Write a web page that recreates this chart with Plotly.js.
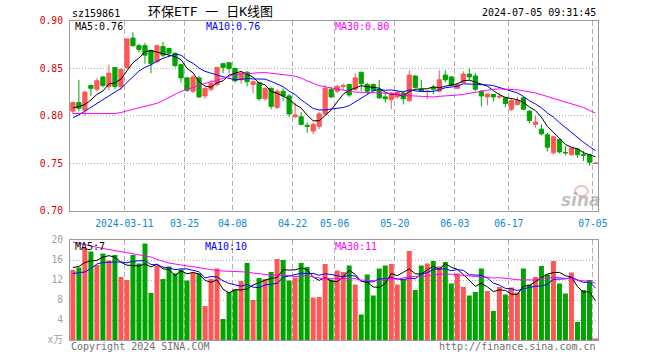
<!DOCTYPE html>
<html><head><meta charset="utf-8">
<script src="https://cdn.plot.ly/plotly-3.0.1.min.js"></script>
<style>html,body{margin:0;padding:0;background:#fff;}#chart{width:660px;height:360px;}</style>
</head><body><div id="chart"></div>
<script>
// ---------- data ----------
const dates = ["2024-02-27","2024-02-28","2024-02-29","2024-03-01","2024-03-04","2024-03-05","2024-03-06","2024-03-07","2024-03-08","2024-03-11","2024-03-12","2024-03-13","2024-03-14","2024-03-15","2024-03-18","2024-03-19","2024-03-20","2024-03-21","2024-03-22","2024-03-25","2024-03-26","2024-03-27","2024-03-28","2024-03-29","2024-04-01","2024-04-02","2024-04-03","2024-04-08","2024-04-09","2024-04-10","2024-04-11","2024-04-12","2024-04-15","2024-04-16","2024-04-17","2024-04-18","2024-04-19","2024-04-22","2024-04-23","2024-04-24","2024-04-25","2024-04-26","2024-04-29","2024-04-30","2024-05-06","2024-05-07","2024-05-08","2024-05-09","2024-05-10","2024-05-13","2024-05-14","2024-05-15","2024-05-16","2024-05-17","2024-05-20","2024-05-21","2024-05-22","2024-05-23","2024-05-24","2024-05-27","2024-05-28","2024-05-29","2024-05-30","2024-05-31","2024-06-03","2024-06-04","2024-06-05","2024-06-06","2024-06-07","2024-06-11","2024-06-12","2024-06-13","2024-06-14","2024-06-17","2024-06-18","2024-06-19","2024-06-20","2024-06-21","2024-06-24","2024-06-25","2024-06-26","2024-06-27","2024-06-28","2024-07-01","2024-07-02","2024-07-03","2024-07-04","2024-07-05"];

const openP = [0.805,0.814,0.806,0.832,0.828,0.841,0.831,0.851,0.831,0.851,
0.882,0.874,0.874,0.869,0.857,0.873,0.871,0.866,0.854,0.840,
0.826,0.840,0.821,0.828,0.833,0.855,0.856,0.850,0.838,0.846,
0.833,0.835,0.818,0.829,0.809,0.826,0.821,0.799,0.799,0.790,
0.784,0.789,0.802,0.828,0.826,0.831,0.833,0.828,0.846,0.833,
0.833,0.828,0.820,0.817,0.820,0.824,0.816,0.842,0.828,0.8255,
0.830,0.826,0.843,0.841,0.829,0.835,0.844,0.842,0.826,0.820,
0.8226,0.8198,0.819,0.807,0.812,0.819,0.805,0.791,0.786,0.780,
0.761,0.775,0.7615,0.759,0.765,0.759,0.759,0.7498];
const highP = [0.815,0.838,0.826,0.833,0.840,0.842,0.854,0.851,0.850,0.882,
0.888,0.876,0.877,0.870,0.875,0.878,0.872,0.867,0.855,0.841,
0.843,0.842,0.830,0.838,0.852,0.856,0.857,0.851,0.847,0.847,
0.837,0.836,0.830,0.830,0.828,0.829,0.823,0.814,0.804,0.793,
0.793,0.804,0.833,0.830,0.833,0.834,0.834,0.845,0.846,0.835,
0.834,0.838,0.824,0.825,0.826,0.826,0.848,0.843,0.838,0.827,
0.833,0.848,0.848,0.842,0.835,0.847,0.850,0.845,0.827,0.823,
0.823,0.824,0.820,0.819,0.820,0.820,0.806,0.8005,0.791,0.782,
0.778,0.776,0.768,0.766,0.766,0.763,0.760,0.7502];
const lowP = [0.802,0.805,0.800,0.821,0.826,0.830,0.827,0.828,0.827,0.849,
0.873,0.867,0.855,0.845,0.856,0.862,0.862,0.851,0.835,0.825,
0.824,0.819,0.818,0.826,0.831,0.845,0.845,0.835,0.834,0.831,
0.824,0.816,0.816,0.807,0.807,0.8156,0.799,0.798,0.790,0.782,
0.7805,0.786,0.801,0.819,0.824,0.827,0.820,0.826,0.826,0.823,
0.826,0.818,0.814,0.807,0.818,0.812,0.815,0.829,0.825,0.8174,
0.823,0.825,0.835,0.831,0.828,0.834,0.838,0.826,0.810,0.811,
0.815,0.818,0.809,0.805,0.811,0.806,0.792,0.7875,0.7795,0.7623,
0.759,0.7605,0.7584,0.758,0.756,0.7525,0.7475,0.7498];
const closeP = [0.814,0.808,0.825,0.829,0.837,0.832,0.845,0.831,0.849,0.881,
0.874,0.870,0.864,0.855,0.874,0.864,0.866,0.853,0.840,0.827,
0.841,0.820,0.829,0.834,0.851,0.851,0.850,0.837,0.845,0.836,
0.836,0.818,0.829,0.810,0.826,0.821,0.802,0.801,0.791,0.789,
0.791,0.802,0.829,0.820,0.831,0.832,0.822,0.840,0.834,0.826,
0.827,0.819,0.818,0.824,0.825,0.818,0.843,0.830,0.826,0.826,
0.828,0.838,0.838,0.832,0.833,0.844,0.841,0.828,0.821,0.823,
0.820,0.8205,0.813,0.816,0.816,0.807,0.795,0.7935,0.781,0.767,
0.778,0.762,0.761,0.766,0.759,0.7585,0.751,0.7502];

const ma5 = [0.8086,0.8097,0.812,0.8167,0.8226,0.8262,0.8336,0.8348,0.8388,0.8476,
0.856,0.861,0.8676,0.8688,0.8674,0.8654,0.8646,0.8624,0.8594,0.850,
0.8454,0.8362,0.8314,0.8302,0.835,0.837,0.843,0.8446,0.8468,0.8438,
0.8408,0.8344,0.8328,0.8258,0.8238,0.8208,0.8176,0.812,0.8082,0.8008,
0.7948,0.7948,0.8004,0.8062,0.8146,0.8228,0.8268,0.829,0.8318,0.8308,
0.8298,0.8292,0.8248,0.8228,0.8226,0.8208,0.8256,0.828,0.8284,0.8286,
0.8306,0.8296,0.8312,0.8324,0.8338,0.837,0.8376,0.8356,0.8334,0.8314,
0.8266,0.8224,0.8194,0.8184,0.817,0.8144,0.8094,0.8056,0.7986,0.7888,
0.783,0.7764,0.7698,0.7668,0.7652,0.7612,0.759,0.7568];
const ma10 = [0.798,0.801,0.805,0.809,0.813,0.817,0.821,0.825,0.829,0.8351,
0.8411,0.8473,0.8512,0.8538,0.8575,0.8607,0.8628,0.865,0.8641,0.8587,
0.8554,0.8504,0.8469,0.8448,0.8425,0.8412,0.8396,0.838,0.8385,0.8394,
0.8389,0.8387,0.8387,0.8363,0.8338,0.8308,0.826,0.8224,0.817,0.8123,
0.8078,0.8062,0.8062,0.8072,0.8077,0.8088,0.8108,0.8147,0.819,0.8227,
0.8263,0.828,0.8269,0.8273,0.8267,0.8253,0.8274,0.8264,0.8256,0.8256,
0.8257,0.8276,0.8296,0.8304,0.8312,0.8338,0.8336,0.8334,0.8329,0.8326,
0.8318,0.830,0.8275,0.8259,0.8242,0.8205,0.8159,0.8125,0.8085,0.8029,
0.7987,0.7929,0.7877,0.7827,0.777,0.7721,0.7677,0.7633];
const ma30 = [0.8025,0.8025,0.8025,0.8025,0.8025,0.8025,0.8025,0.8025,0.8035,0.8055,
0.807,0.8085,0.8098,0.8112,0.8132,0.8162,0.8195,0.8228,0.8258,0.8278,
0.8302,0.8322,0.8342,0.8358,0.8375,0.8395,0.8418,0.8434,0.8442,0.8444,
0.8451,0.8455,0.8456,0.845,0.8446,0.8442,0.8428,0.8418,0.8399,0.8368,
0.834,0.8318,0.8306,0.8294,0.828,0.8269,0.8255,0.825,0.8248,0.8248,
0.8243,0.8243,0.8239,0.8236,0.8227,0.8216,0.8214,0.8212,0.8205,0.8202,
0.8199,0.8206,0.8209,0.8216,0.8219,0.8226,0.8239,0.8248,0.8258,0.827,
0.8279,0.8285,0.828,0.8279,0.8274,0.8265,0.8256,0.8241,0.8223,0.8204,
0.8187,0.8168,0.8149,0.813,0.8108,0.8088,0.8057,0.8031];

const volume = [14.0,14.5,18.4,17.7,15.0,17.3,15.9,17.0,12.6,12.0,
17.0,15.3,19.3,9.4,14.9,12.2,14.7,13.3,14.1,11.9,
13.5,13.3,6.8,12.2,14.3,4.2,9.6,10.1,11.8,15.4,
8.0,12.4,12.2,13.6,16.2,16.0,11.9,12.5,15.4,14.6,
8.5,8.6,15.2,12.1,13.9,13.6,14.9,11.1,5.1,13.1,
8.9,14.3,14.9,15.2,11.1,12.1,17.8,10.0,14.9,15.3,
15.8,14.7,15.6,11.3,13.3,10.6,8.9,9.6,14.3,9.8,
5.8,10.6,9.1,10.5,9.5,14.3,11.1,12.6,14.8,13.1,
15.8,11.3,9.3,13.5,3.6,10.0,12.0,0.3];
const volMa5 = [14.5,14.7,15.5,15.8,15.92,16.58,16.86,16.58,15.56,14.96,
14.9,14.78,15.24,14.6,15.18,14.22,14.1,12.9,13.84,13.24,
13.5,13.22,11.92,11.54,12.02,10.16,9.42,10.08,10.0,10.22,
10.98,11.54,11.96,12.32,12.48,14.08,13.98,14.04,14.4,14.08,
12.58,11.92,12.46,11.8,11.66,12.68,13.94,13.12,11.72,11.56,
10.62,10.5,11.26,13.28,12.88,13.52,14.22,13.24,13.18,14.02,
14.76,14.14,15.26,14.54,14.14,13.1,11.94,10.74,11.34,10.64,
9.68,10.02,9.92,9.16,9.1,10.8,10.9,11.6,12.46,13.18,
13.48,13.52,12.86,12.6,10.7,9.54,9.68,7.88];
const volMa10 = [13.3,13.4,13.6,14.3,15.2,15.5,15.6,15.6,15.6,15.44,
15.74,15.82,15.91,15.08,15.07,14.56,14.44,14.07,14.22,14.21,
13.86,13.66,12.41,12.69,12.63,11.83,11.32,11.0,10.77,11.12,
10.57,10.48,11.02,11.16,11.35,12.53,12.76,13.0,13.36,13.28,
13.33,12.95,13.25,13.1,12.87,12.63,12.93,12.79,11.76,11.61,
11.65,12.22,12.19,12.5,12.22,12.07,12.36,12.25,13.23,13.45,
14.14,14.18,14.25,13.86,14.08,13.93,13.04,13.0,12.94,12.39,
11.39,10.98,10.33,10.25,9.87,10.24,10.46,10.76,10.81,11.14,
12.14,12.21,12.23,12.53,11.94,11.51,11.6,10.37];
const volMa30 = [19.6,19.4,19.1,18.8,18.5,18.3,18.1,17.9,17.7,17.5,
17.3,17.1,16.9,16.6,16.1,15.7,15.4,15.2,15.0,14.8,
14.6,14.4,14.2,14.0,13.9,13.8,13.75,13.7,13.6,13.59,
13.39,13.32,13.11,12.98,13.02,12.97,12.84,12.69,12.78,12.87,
12.59,12.36,12.23,12.32,12.28,12.33,12.34,12.26,11.96,12.0,
11.85,11.88,12.15,12.25,12.15,12.41,12.68,12.68,12.78,12.78,
13.04,13.12,13.23,13.15,13.06,12.88,12.78,12.68,12.64,12.48,
12.39,12.46,12.26,12.2,12.06,12.08,11.95,12.0,12.33,12.33,
12.56,12.46,12.27,12.21,11.96,11.89,11.7,11.38];

const tickDates = ["2024-03-11","2024-03-25","2024-04-08","2024-04-22","2024-05-06","2024-05-20","2024-06-03","2024-06-17","2024-07-05"];
const tickLabels = ["2024-03-11","03-25","04-08","04-22","05-06","05-20","06-03","06-17","07-05"];
const priceTicks = [0.70,0.75,0.80,0.85,0.90];
const volTicks = [0,4,8,12,16,20];
const volTickText = ["x万","4","8","12","16","20"];

// ---------- styling ----------
const RED = "#ff5656", GREEN = "#00a400";
const MONO = "DejaVu Sans Mono, Liberation Mono, monospace";
const W = 660, H = 360, L = 70, R = 62, T = 21, B = 20;
const PW = W - L - R, PH = H - T - B;
const fx = p => (p - L) / PW;
const fy = p => (H - B - p) / PH;

const idx = dates.map((d, i) => i);
const tickVals = tickDates.map(d => dates.indexOf(d) - 0.42);
const volColors = idx.map(i => closeP[i] >= openP[i] ? RED : GREEN);

const traces = [
  {type: "candlestick", x: idx, open: openP, high: highP, low: lowP, close: closeP,
   xaxis: "x", yaxis: "y", whiskerwidth: 0, hoverinfo: "skip",
   increasing: {line: {color: RED, width: 1}, fillcolor: RED},
   decreasing: {line: {color: GREEN, width: 1}, fillcolor: GREEN}},
  {type: "scatter", mode: "lines", x: idx, y: ma5, xaxis: "x", yaxis: "y", line: {color: "#000000", width: 1}},
  {type: "scatter", mode: "lines", x: idx, y: ma10, xaxis: "x", yaxis: "y", line: {color: "#0000ff", width: 1}},
  {type: "scatter", mode: "lines", x: idx, y: ma30, xaxis: "x", yaxis: "y", line: {color: "#ff00ff", width: 1}},
  {type: "bar", x: idx, y: volume, xaxis: "x2", yaxis: "y2", width: 0.83,
   marker: {color: volColors, line: {width: 0}}},
  {type: "scatter", mode: "lines", x: idx, y: volMa5, xaxis: "x2", yaxis: "y2", line: {color: "#000000", width: 1}},
  {type: "scatter", mode: "lines", x: idx, y: volMa10, xaxis: "x2", yaxis: "y2", line: {color: "#0000ff", width: 1}},
  {type: "scatter", mode: "lines", x: idx, y: volMa30, xaxis: "x2", yaxis: "y2", line: {color: "#ff00ff", width: 1}}
];

const XR = [-0.48, 87.42];
const frame = {showline: true, mirror: true, linecolor: "#9a9a9a", linewidth: 1, ticks: "", zeroline: false, fixedrange: true};

const ann = (text, x, y, xanchor, color, size, extra) => Object.assign({
  text: text, xref: "paper", yref: "paper", x: fx(x), y: fy(y), xanchor: xanchor, yanchor: "middle",
  showarrow: false, font: {family: MONO, size: size, color: color}
}, extra || {});

const layout = {
  width: W, height: H, margin: {l: L, r: R, t: T, b: B},
  paper_bgcolor: "#ffffff", plot_bgcolor: "#ffffff", showlegend: false, boxgap: 0.3, boxgroupgap: 0,
  xaxis: Object.assign({}, frame, {domain: [0, 1], anchor: "y", range: XR, rangeslider: {visible: false},
    tickmode: "array", tickvals: tickVals, ticktext: tickLabels, ticklabelstandoff: 4,
    tickfont: {family: MONO, size: 9.7, color: "#0b87d4"},
    showgrid: true, gridcolor: "#b0b0b0", gridwidth: 1, griddash: "5px,3px"}),
  yaxis: Object.assign({}, frame, {domain: [fy(210.7), 1], anchor: "x", range: [0.70, 0.90],
    tickmode: "array", tickvals: priceTicks, ticktext: priceTicks.map(v => v.toFixed(2)), ticklabelstandoff: 4,
    tickfont: {family: MONO, size: 9.7, color: "#e00000"},
    showgrid: true, gridcolor: "#b0b0b0", gridwidth: 1, griddash: "1px,2px"}),
  xaxis2: Object.assign({}, frame, {domain: [0, 1], anchor: "y2", matches: "x", range: XR,
    tickmode: "array", tickvals: tickVals, showticklabels: false,
    showgrid: true, gridcolor: "#b0b0b0", gridwidth: 1, griddash: "5px,3px"}),
  yaxis2: Object.assign({}, frame, {domain: [0, fy(240)], anchor: "x2", range: [0, 20],
    tickmode: "array", tickvals: volTicks, ticktext: volTickText, ticklabelstandoff: 4,
    tickfont: {family: MONO + ", Noto Sans CJK SC", size: 9.7, color: "#a0a0a0"},
    showgrid: true, gridcolor: "#b0b0b0", gridwidth: 1, griddash: "1px,2px"}),
  annotations: [
    ann("sz159861", 70, 13, "left", "#000000", 10),
    ann("环保ETF 一 日K线图", 210.5, 12, "center", "#000000", 13, {font: {family: "DejaVu Sans Mono, Noto Sans CJK SC", size: 13, color: "#000000"}}),
    ann("2024-07-05 09:31:45", 598, 12.5, "right", "#000000", 10),
    ann("MA5:0.76", 73, 26.5, "left", "#000000", 10),
    ann("MA10:0.76", 204, 26.5, "left", "#0000ff", 10),
    ann("MA30:0.80", 333, 26.5, "left", "#ff00ff", 10),
    ann("MA5:7", 73, 246.5, "left", "#000000", 10),
    ann("MA10:10", 203, 246.5, "left", "#0000ff", 10),
    ann("MA30:11", 333, 246.5, "left", "#ff00ff", 10),
    ann("Copyright 2024 SINA.COM", 69, 346.5, "left", "#707070", 10),
    ann("http://finance.sina.com.cn", 598, 346.5, "right", "#707070", 10),
    ann("sina", 581, 200, "center", "rgba(150,150,150,0.6)", 17,
        {font: {family: "DejaVu Sans", size: 17, color: "rgba(150,150,150,0.6)", style: "italic", weight: "bold"}})
  ],
  shapes: [
    {type: "circle", xref: "paper", yref: "paper", x0: fx(575), x1: fx(588), y0: fy(196), y1: fy(186),
     line: {color: "rgba(240,110,110,0.45)", width: 2}}
  ]
};

Plotly.newPlot("chart", traces, layout, {displayModeBar: false, staticPlot: true});
</script>
</body></html>
